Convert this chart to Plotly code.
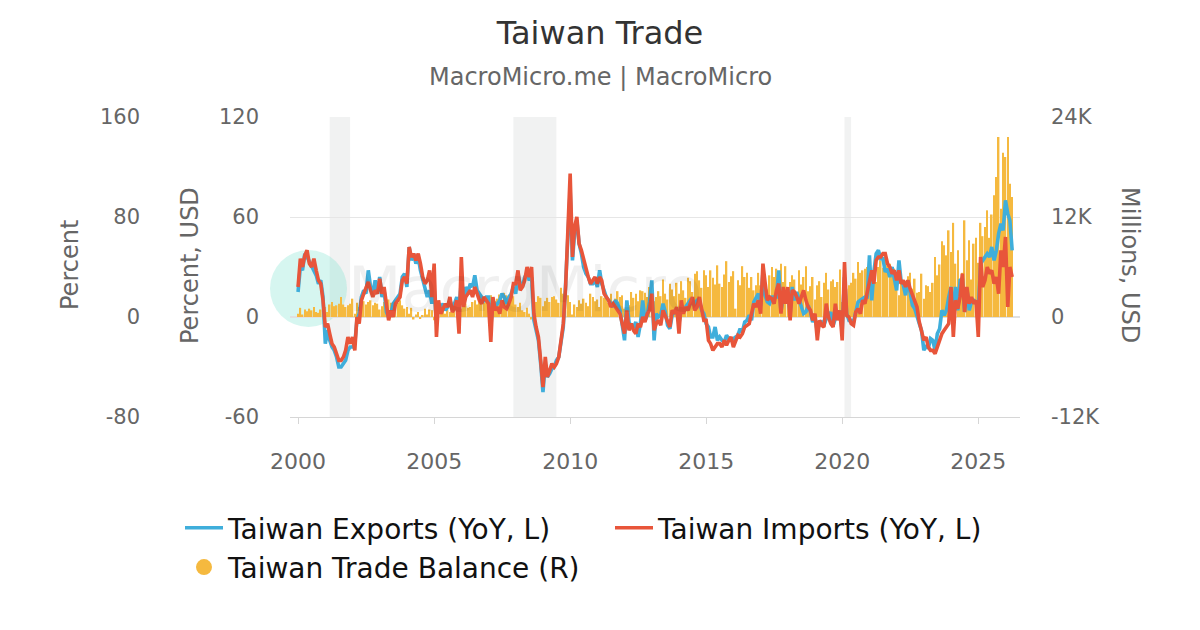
import pandas as pd
import plotly.graph_objects as go

# ---------------- data (monthly, Jan 2000 - Apr 2026) ----------------
exports_yoy = [
    15, 30, 28, 38, 36, 33, 30, 28, 25, 20, 22, 12,          # 2000
    -16, -8, -14, -18, -20, -24, -30, -30, -28, -26, -20, -18,  # 2001
    -18, -16, -2, 2, 12, 16, 14, 28, 18, 14, 22, 14,         # 2002
    24, 12, 16, 3, 0, 2, 8, 10, 12, 14, 24, 26,              # 2003
    18, 42, 34, 38, 32, 36, 28, 22, 18, 12, 16, 8,           # 2004
    18, -4, 8, 6, 8, 4, 6, 10, 6, 8, 12, 4,                  # 2005
    22, 8, 18, 15, 20, 18, 25, 16, 14, 12, 10, 12,           # 2006
    12, -6, 10, 6, 8, 10, 14, 12, 8, 12, 14, 18,             # 2007
    14, 26, 20, 18, 24, 26, 22, 24, -2, -8, -14, -28,        # 2008
    -45, -28, -36, -34, -31, -30, -26, -24, -14, -6, 20, 44, # 2009
    76, 34, 50, 58, 44, 38, 30, 26, 24, 20, 20, 22,          # 2010
    18, 28, 20, 16, 12, 10, 8, 6, 10, 8, 4, -4,              # 2011
    -14, 10, -3, -6, -6, -3, -12, -4, 10, -2, 1, 9,          # 2012
    22, -14, 2, 0, 1, 8, 3, -5, -7, 1, 3, 5,                 # 2013
    -4, 6, 4, 6, 8, 10, 8, 8, 10, 10, 4, 2,                  # 2014
    -4, -6, -12, -12, -6, -14, -12, -14, -15, -11, -13, -14, # 2015
    -13, -12, -11, -7, -9, -3, -2, 1, -2, 9, 12, 14,         # 2016
    7, 27, 13, 9, 8, 12, 12, 12, 28, 3, 14, 14,              # 2017
    15, 2, 18, 10, 15, 10, 5, 2, 3, 7, 3, -3,                # 2018
    0, -9, -4, -3, -5, -1, 0, 3, -5, -1, 3, 3,               # 2019
    -8, 24, 2, -2, -2, -3, 2, 9, 10, 11, 12, 12,             # 2020
    37, 10, 27, 38, 40, 35, 35, 27, 29, 24, 30, 23,          # 2021
    16, 34, 22, 19, 13, 22, 15, 7, 5, 0, -4, -8,             # 2022
    -20, -17, -19, -13, -14, -20, -10, -7, 4, 1, 4, 12,      # 2023
    18, 1, 18, 4, 22, 23, 3, 17, 4, 9, 10, 9,                # 2024
    4, 32, 34, 36, 38, 36, 42, 34, 40, 50, 56, 52,           # 2025
    70, 62, 58, 40,                                          # 2026
]

imports_yoy = [
    18, 35, 30, 37, 40, 32, 30, 35, 28, 22, 20, 10,          # 2000
    -6, -4, -10, -16, -18, -22, -26, -26, -24, -20, -12, -16,  # 2001
    -12, -20, 0, -4, 10, 14, 18, 21, 16, 12, 16, 14,         # 2002
    23, 14, 18, 6, -2, 4, 0, 8, 10, 12, 22, 24,              # 2003
    20, 42, 36, 38, 34, 38, 32, 24, 20, 22, 28, 12,          # 2004
    32, -12, 10, 2, 5, 8, 6, 12, 3, 5, 10, -10,              # 2005
    36, 6, 12, 14, 16, 12, 18, 14, 10, 8, 12, 10,            # 2006
    8, -15, 12, 4, 6, 2, 10, 6, 5, 8, 12, 20,                # 2007
    20, 28, 16, 18, 22, 30, 24, 30, 2, -6, -12, -26,         # 2008
    -42, -24, -36, -32, -28, -30, -28, -24, -12, -4, 18, 46, # 2009
    86, 36, 54, 60, 44, 40, 34, 28, 24, 20, 22, 24,          # 2010
    20, 24, 22, 14, 12, 10, 6, 8, 6, 4, 2, -4,               # 2011
    -10, 4, -8, -4, -8, -10, -4, -6, 0, -3, 2, 4,            # 2012
    14, -8, -4, -2, -5, 4, 1, -2, -6, 4, 2, 6,               # 2013
    -10, 10, 2, 6, 4, 8, 12, 4, 6, 12, 6, -2,                # 2014
    -2, -14, -16, -20, -18, -16, -16, -18, -14, -17, -14, -12, # 2015
    -18, -14, -11, -12, -10, -6, -5, -4, 2, 8, 6, 10,        # 2016
    2, 32, 21, 10, 12, 11, 8, 16, 20, 2, 18, 8,              # 2017
    18, -2, 16, 15, 12, 8, 12, 16, 10, 6, 4, -2,             # 2018
    2, -14, -2, -5, -6, 8, 0, -4, -6, 8, -2, 4,              # 2019
    -14, 33, 1, 0, -4, -5, 3, 5, 2, 10, 8, 14,               # 2020
    22, 28, 20, 34, 36, 36, 38, 38, 32, 30, 26, 28,          # 2021
    22, 28, 20, 22, 18, 22, 17, 13, 10, 6, -3, -8,           # 2022
    -14, -12, -18, -20, -20, -22, -18, -14, -10, -8, -6, -4, # 2023
    18, -12, 10, 5, 12, 26, 3, 18, 8, 12, 8, 10,             # 2024
    -12, 36, 18, 22, 30, 26, 28, 20, 24, 14, 40, 30,         # 2025
    48, 6, 30, 24,                                           # 2026
]

trade_balance = [  # millions of USD
    400, 1100, 300, 900, 700, 1000, 800, 1200, 600, 500, 900, 800,          # 2000
    1200, 600, 1500, 1800, 1300, 1400, 1600, 2400, 1500, 1200, 1400, 1600,  # 2001
    2200, 400, 1700, 1200, 900, 1900, 1500, 1800, 2000, 1400, 1700, 1600,   # 2002
    900, 1300, 1800, 1500, 2100, 1700, 900, 1600, 1700, 2000, 1400, 1000,   # 2003
    1200, 400, 1100, -300, 300, 600, -200, 200, 1000, 300, 900, 800,        # 2004
    -400, 1100, 200, 500, 800, 400, 900, 600, 800, 1000, 1400, 1300,        # 2005
    1000, 1400, 1600, 1100, 1200, 1800, 2000, 1500, 2200, 2400, 1700, 2100, # 2006
    1600, 2600, 1500, 1900, 2200, 2700, 2000, 2900, 2600, 2300, 3000, 2500, # 2007
    1500, 1200, 1700, 800, 600, 1100, 400, -300, 1900, 1800, 2500, 2300,    # 2008
    1300, 1900, 2300, 1800, 2400, 2500, 2100, 1700, 3500, 2800, 3200, 2600, # 2009
    1800, 300, 1500, 1200, 2000, 1600, 2200, 1700, 1300, 2800, 2400, 1900,  # 2010
    2100, 1200, 2500, 2300, 2600, 1700, 2800, 1500, 2200, 3100, 2400, 2600, # 2011
    1000, 1800, 1400, 3000, 2300, 2800, 1900, 3200, 3100, 2900, 2400, 3600, # 2012
    3300, 1900, 2400, 3100, 2500, 4500, 2800, 2100, 4000, 3300, 2500, 4100, # 2013
    2800, 4300, 3200, 2300, 4700, 4300, 3000, 5200, 5500, 4400, 3500, 5600, # 2014
    5000, 3600, 5600, 4700, 3900, 6200, 4000, 3600, 5100, 6700, 4200, 4900, # 2015
    5500, 1000, 4400, 3800, 6100, 4800, 5300, 3500, 4800, 3200, 3800, 5300, # 2016
    3800, 4900, 4700, 3300, 5000, 6000, 4800, 5800, 4900, 6400, 4200, 6100, # 2017
    3600, 4200, 5000, 4500, 2400, 5600, 3900, 4800, 6100, 3100, 3700, 4800, # 2018
    2100, 3800, 4300, 2400, 4100, 5300, 3300, 4300, 4500, 3600, 4200, 5700, # 2019
    1800, 4500, 3400, 3800, 4100, 5300, 4600, 6600, 5300, 5600, 5800, 6000, # 2020
    6100, 4500, 4300, 4200, 6000, 6800, 5900, 7200, 6200, 6400, 5700, 5800, # 2021
    5000, 2600, 4000, 3500, 4200, 4900, 5300, 3400, 4600, 2900, 3000, 5200, # 2022
    2200, 3800, 3700, 3000, 4100, 7200, 5000, 6300, 9100, 8600, 7400, 10400,  # 2023
    7800, 11300, 6400, 8000, 3500, 5300, 11600, 6800, 9200, 4500, 8800, 9500, # 2024
    6500, 11300, 9700, 10800, 12800, 9500, 12300, 14600, 16800, 21600, 13000, 19700, # 2025
    19200, 21600, 16000, 14400,                                             # 2026
]

recessions = [("2001-03-01", "2001-11-30"), ("2007-12-01", "2009-06-30"), ("2020-02-01", "2020-04-30")]

year_ticks = [2000, 2005, 2010, 2015, 2020, 2025]
left_ticks = [-60, 0, 60, 120]
outer_ticks = [-80, 0, 80, 160]
right_ticks = [-12000, 0, 12000, 24000]
right_labels = ["-12K", "0", "12K", "24K"]

# ---------------- figure ----------------
W, H = 1200, 630
FONT = "DejaVu Sans"
BLUE, RED, YEL = "#3FAEDB", "#E8553A", "#F5B93F"
GREY_TXT = "#666666"


def fx(p):
    return p / W


def fy(p):
    return 1 - p / H


months = pd.date_range("2000-01-01", periods=len(exports_yoy), freq="MS")

fig = go.Figure()
fig.add_trace(go.Bar(x=months, y=trade_balance, marker=dict(color=YEL, line=dict(width=0)),
                     name="Taiwan Trade Balance (R)", showlegend=False, yaxis="y"))
fig.add_trace(go.Scatter(x=months, y=exports_yoy, mode="lines", line=dict(color=BLUE, width=3.6),
                         name="Taiwan Exports (YoY, L)", yaxis="y2"))
fig.add_trace(go.Scatter(x=months, y=imports_yoy, mode="lines", line=dict(color=RED, width=3.6),
                         name="Taiwan Imports (YoY, L)", yaxis="y2"))
fig.add_trace(go.Scatter(x=[None], y=[None], mode="markers", marker=dict(color=YEL, size=26),
                         name="Taiwan Trade Balance (R)", yaxis="y"))
# empty trace so that the outer "Percent" axis is drawn
fig.add_trace(go.Scatter(x=[months[0]], y=[None], mode="lines", showlegend=False,
                         hoverinfo="skip", yaxis="y3"))

shapes = []
for a, b in recessions:
    shapes.append(dict(type="rect", xref="x", yref="y domain", x0=a, x1=b, y0=0, y1=1,
                       fillcolor="#F1F2F2", line=dict(width=0), layer="below"))
# watermark circle
shapes.append(dict(type="circle", xref="paper", yref="paper", x0=fx(270), x1=fx(347),
                   y0=fy(327), y1=fy(250), fillcolor="rgba(120,225,205,0.30)",
                   line=dict(width=0), layer="below"))

tickfont = dict(family=FONT, size=21, color=GREY_TXT)
xtickfont = dict(family=FONT, size=22, color=GREY_TXT)
ydom = [fy(417), fy(117)]

fig.update_layout(
    width=W, height=H,
    margin=dict(l=0, r=0, t=0, b=0, autoexpand=False),
    paper_bgcolor="white", plot_bgcolor="white",
    font=dict(family=FONT, color=GREY_TXT),
    title=dict(text="Taiwan Trade", x=0.5, xanchor="center", y=fy(33), yanchor="middle",
               xref="paper", yref="container", font=dict(family=FONT, size=32, color="#333333")),
    bargap=0.25,
    showlegend=True,
    legend=dict(orientation="h", x=fx(180), xanchor="left", y=fy(503), yanchor="top",
                font=dict(family=FONT, size=28, color="#111111"),
                entrywidth=377, entrywidthmode="pixels", bgcolor="rgba(0,0,0,0)",
                itemsizing="trace", itemwidth=38),
    xaxis=dict(type="date", domain=[fx(290), fx(1020)], range=["1999-09-15", "2026-07-15"],
               tickvals=[f"{y}-01-01" for y in year_ticks], ticktext=[str(y) for y in year_ticks],
               showgrid=False, showline=True, linecolor="#D6D6D6", linewidth=1,
               ticks="outside", ticklen=6, tickcolor="#D6D6D6", tickfont=xtickfont,
               ticklabelstandoff=19, zeroline=False, anchor="y"),
    yaxis=dict(domain=ydom, side="right", range=[-12000, 24000], tickvals=right_ticks,
               ticktext=right_labels, showgrid=True, gridcolor="#E6E6E6", gridwidth=1,
               zeroline=True, zerolinecolor="#E0E0E0", zerolinewidth=2,
               tickfont=tickfont, ticklabelstandoff=30, anchor="x"),
    yaxis2=dict(overlaying="y", side="left", range=[-60, 120], tickvals=left_ticks,
                ticktext=[str(v) for v in left_ticks],
                showgrid=False, zeroline=False, tickfont=tickfont, ticklabelstandoff=30, anchor="x"),
    yaxis3=dict(overlaying="y", side="left", anchor="free", position=fx(170), range=[-80, 160],
                tickvals=outer_ticks, ticktext=[str(v) for v in outer_ticks],
                showgrid=False, zeroline=False, showline=False,
                tickfont=tickfont, ticklabelstandoff=30),
    shapes=shapes,
    annotations=[
        dict(text="MacroMicro.me | MacroMicro", xref="paper", yref="paper", x=0.5, y=fy(77),
             xanchor="center", yanchor="middle",
             showarrow=False, font=dict(family=FONT, size=24, color=GREY_TXT)),
        dict(text="Percent", xref="paper", yref="paper", x=fx(70), y=fy(265), textangle=-90,
             xanchor="center", yanchor="middle",
             showarrow=False, font=dict(family=FONT, size=24, color=GREY_TXT)),
        dict(text="Percent, USD", xref="paper", yref="paper", x=fx(190), y=fy(266), textangle=-90,
             xanchor="center", yanchor="middle",
             showarrow=False, font=dict(family=FONT, size=24, color=GREY_TXT)),
        dict(text="Millions, USD", xref="paper", yref="paper", x=fx(1130), y=fy(265), textangle=90,
             xanchor="center", yanchor="middle",
             showarrow=False, font=dict(family=FONT, size=24, color=GREY_TXT)),
        dict(text="MacroMicro", xref="paper", yref="paper", x=fx(525), y=fy(290),
             xanchor="center", yanchor="middle",
             showarrow=False, font=dict(family=FONT, size=62, color="rgba(0,0,0,0.06)")),
    ],
)

fig.write_html("out.html")
